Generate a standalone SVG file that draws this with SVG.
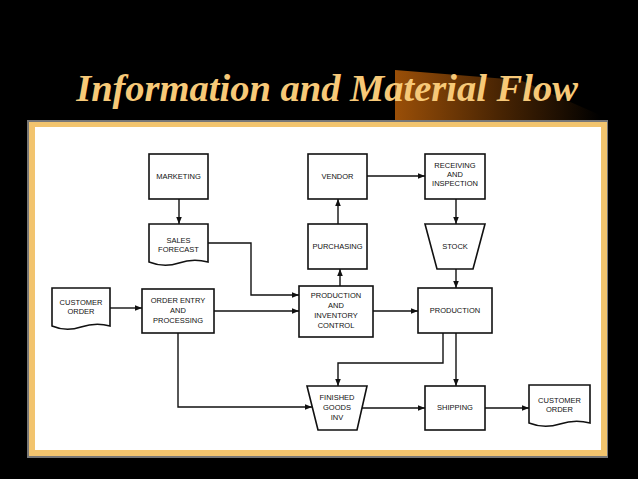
<svg xmlns="http://www.w3.org/2000/svg" width="638" height="479" viewBox="0 0 638 479">
<defs>
<style>
.n{fill:#fff;stroke:#111;stroke-width:1.6}
.t{font-family:"Liberation Sans",Arial,sans-serif;font-size:7.5px;fill:#111;text-anchor:middle}
.c{fill:none;stroke:#111;stroke-width:1.4;marker-end:url(#a)}
</style>
<marker id="a" viewBox="0 0 10 10" refX="10" refY="5" markerWidth="7" markerHeight="7" orient="auto" markerUnits="userSpaceOnUse"><path d="M0,1L10,5L0,9z" fill="#111"/></marker>
<linearGradient id="g" x1="0" y1="0" x2="1" y2="0"><stop offset="0" stop-color="#9a4f08"/><stop offset="0.5" stop-color="#4a2503"/><stop offset="1" stop-color="#000"/></linearGradient>
</defs>
<rect width="638" height="479" fill="#000"/>
<path d="M395,70 L520,80 L600,115 L600,120 L395,120 Z" fill="url(#g)"/>
<text x="327" y="101" font-family="'Liberation Serif',serif" font-style="italic" font-weight="bold" font-size="38.5" fill="#f7c978" text-anchor="middle">Information and Material Flow</text>
<rect x="27" y="120" width="581" height="338" fill="#777"/>
<rect x="29" y="122" width="578" height="334" fill="#f2c46e"/>
<rect x="35" y="127" width="566" height="323" fill="#fff"/>
<g id="connectors">
<path class="c" d="M179,199V224"/>
<path class="c" d="M208,243H251V295H299"/>
<path class="c" d="M110,308H142"/>
<path class="c" d="M214,311H299"/>
<path class="c" d="M178,333V407H312"/>
<path class="c" d="M340,286V269"/>
<path class="c" d="M338,224V199"/>
<path class="c" d="M367,176H425"/>
<path class="c" d="M456,199V224"/>
<path class="c" d="M456,269V288"/>
<path class="c" d="M373,311H418"/>
<path class="c" d="M443,333V363H338V386"/>
<path class="c" d="M456,333V386"/>
<path class="c" d="M362,408H425"/>
<path class="c" d="M485,408H529"/>
</g>
<g id="marketing"><rect class="n" x="149" y="154" width="59" height="45"/><text class="t" x="178.5" y="179">MARKETING</text></g>
<g id="sales-forecast"><path class="n" d="M149,224H208V262Q193,258 179,263Q164,268 149,262Z"/><text class="t" x="178.5" y="243">SALES</text><text class="t" x="178.5" y="252">FORECAST</text></g>
<g id="customer-order-in"><path class="n" d="M52,288H110V326Q96,322 81,327Q66,332 52,326Z"/><text class="t" x="81" y="305">CUSTOMER</text><text class="t" x="81" y="314">ORDER</text></g>
<g id="order-entry"><rect class="n" x="142" y="289" width="72" height="44"/><text class="t" x="178" y="303">ORDER ENTRY</text><text class="t" x="178" y="313">AND</text><text class="t" x="178" y="323">PROCESSING</text></g>
<g id="pic"><rect class="n" x="299" y="286" width="74" height="51"/><text class="t" x="336" y="298">PRODUCTION</text><text class="t" x="336" y="308">AND</text><text class="t" x="336" y="318">INVENTORY</text><text class="t" x="336" y="328">CONTROL</text></g>
<g id="vendor"><rect class="n" x="308" y="154" width="59" height="45"/><text class="t" x="337.5" y="179">VENDOR</text></g>
<g id="purchasing"><rect class="n" x="308" y="224" width="59" height="45"/><text class="t" x="337.5" y="249">PURCHASING</text></g>
<g id="receiving"><rect class="n" x="425" y="154" width="60" height="45"/><text class="t" x="455" y="168">RECEIVING</text><text class="t" x="455" y="177">AND</text><text class="t" x="455" y="186">INSPECTION</text></g>
<g id="stock"><path class="n" d="M425,224H485L473,269H437Z"/><text class="t" x="455" y="249">STOCK</text></g>
<g id="production"><rect class="n" x="418" y="288" width="74" height="45"/><text class="t" x="455" y="313">PRODUCTION</text></g>
<g id="finished-goods"><path class="n" d="M307,386H367L357,430H318Z"/><text class="t" x="337" y="400">FINISHED</text><text class="t" x="337" y="410">GOODS</text><text class="t" x="337" y="420">INV</text></g>
<g id="shipping"><rect class="n" x="425" y="386" width="60" height="44"/><text class="t" x="455" y="410">SHIPPING</text></g>
<g id="customer-order-out"><path class="n" d="M529,385H590V423Q575,419 560,424Q544,429 529,423Z"/><text class="t" x="559.5" y="403">CUSTOMER</text><text class="t" x="559.5" y="412">ORDER</text></g>
</svg>
